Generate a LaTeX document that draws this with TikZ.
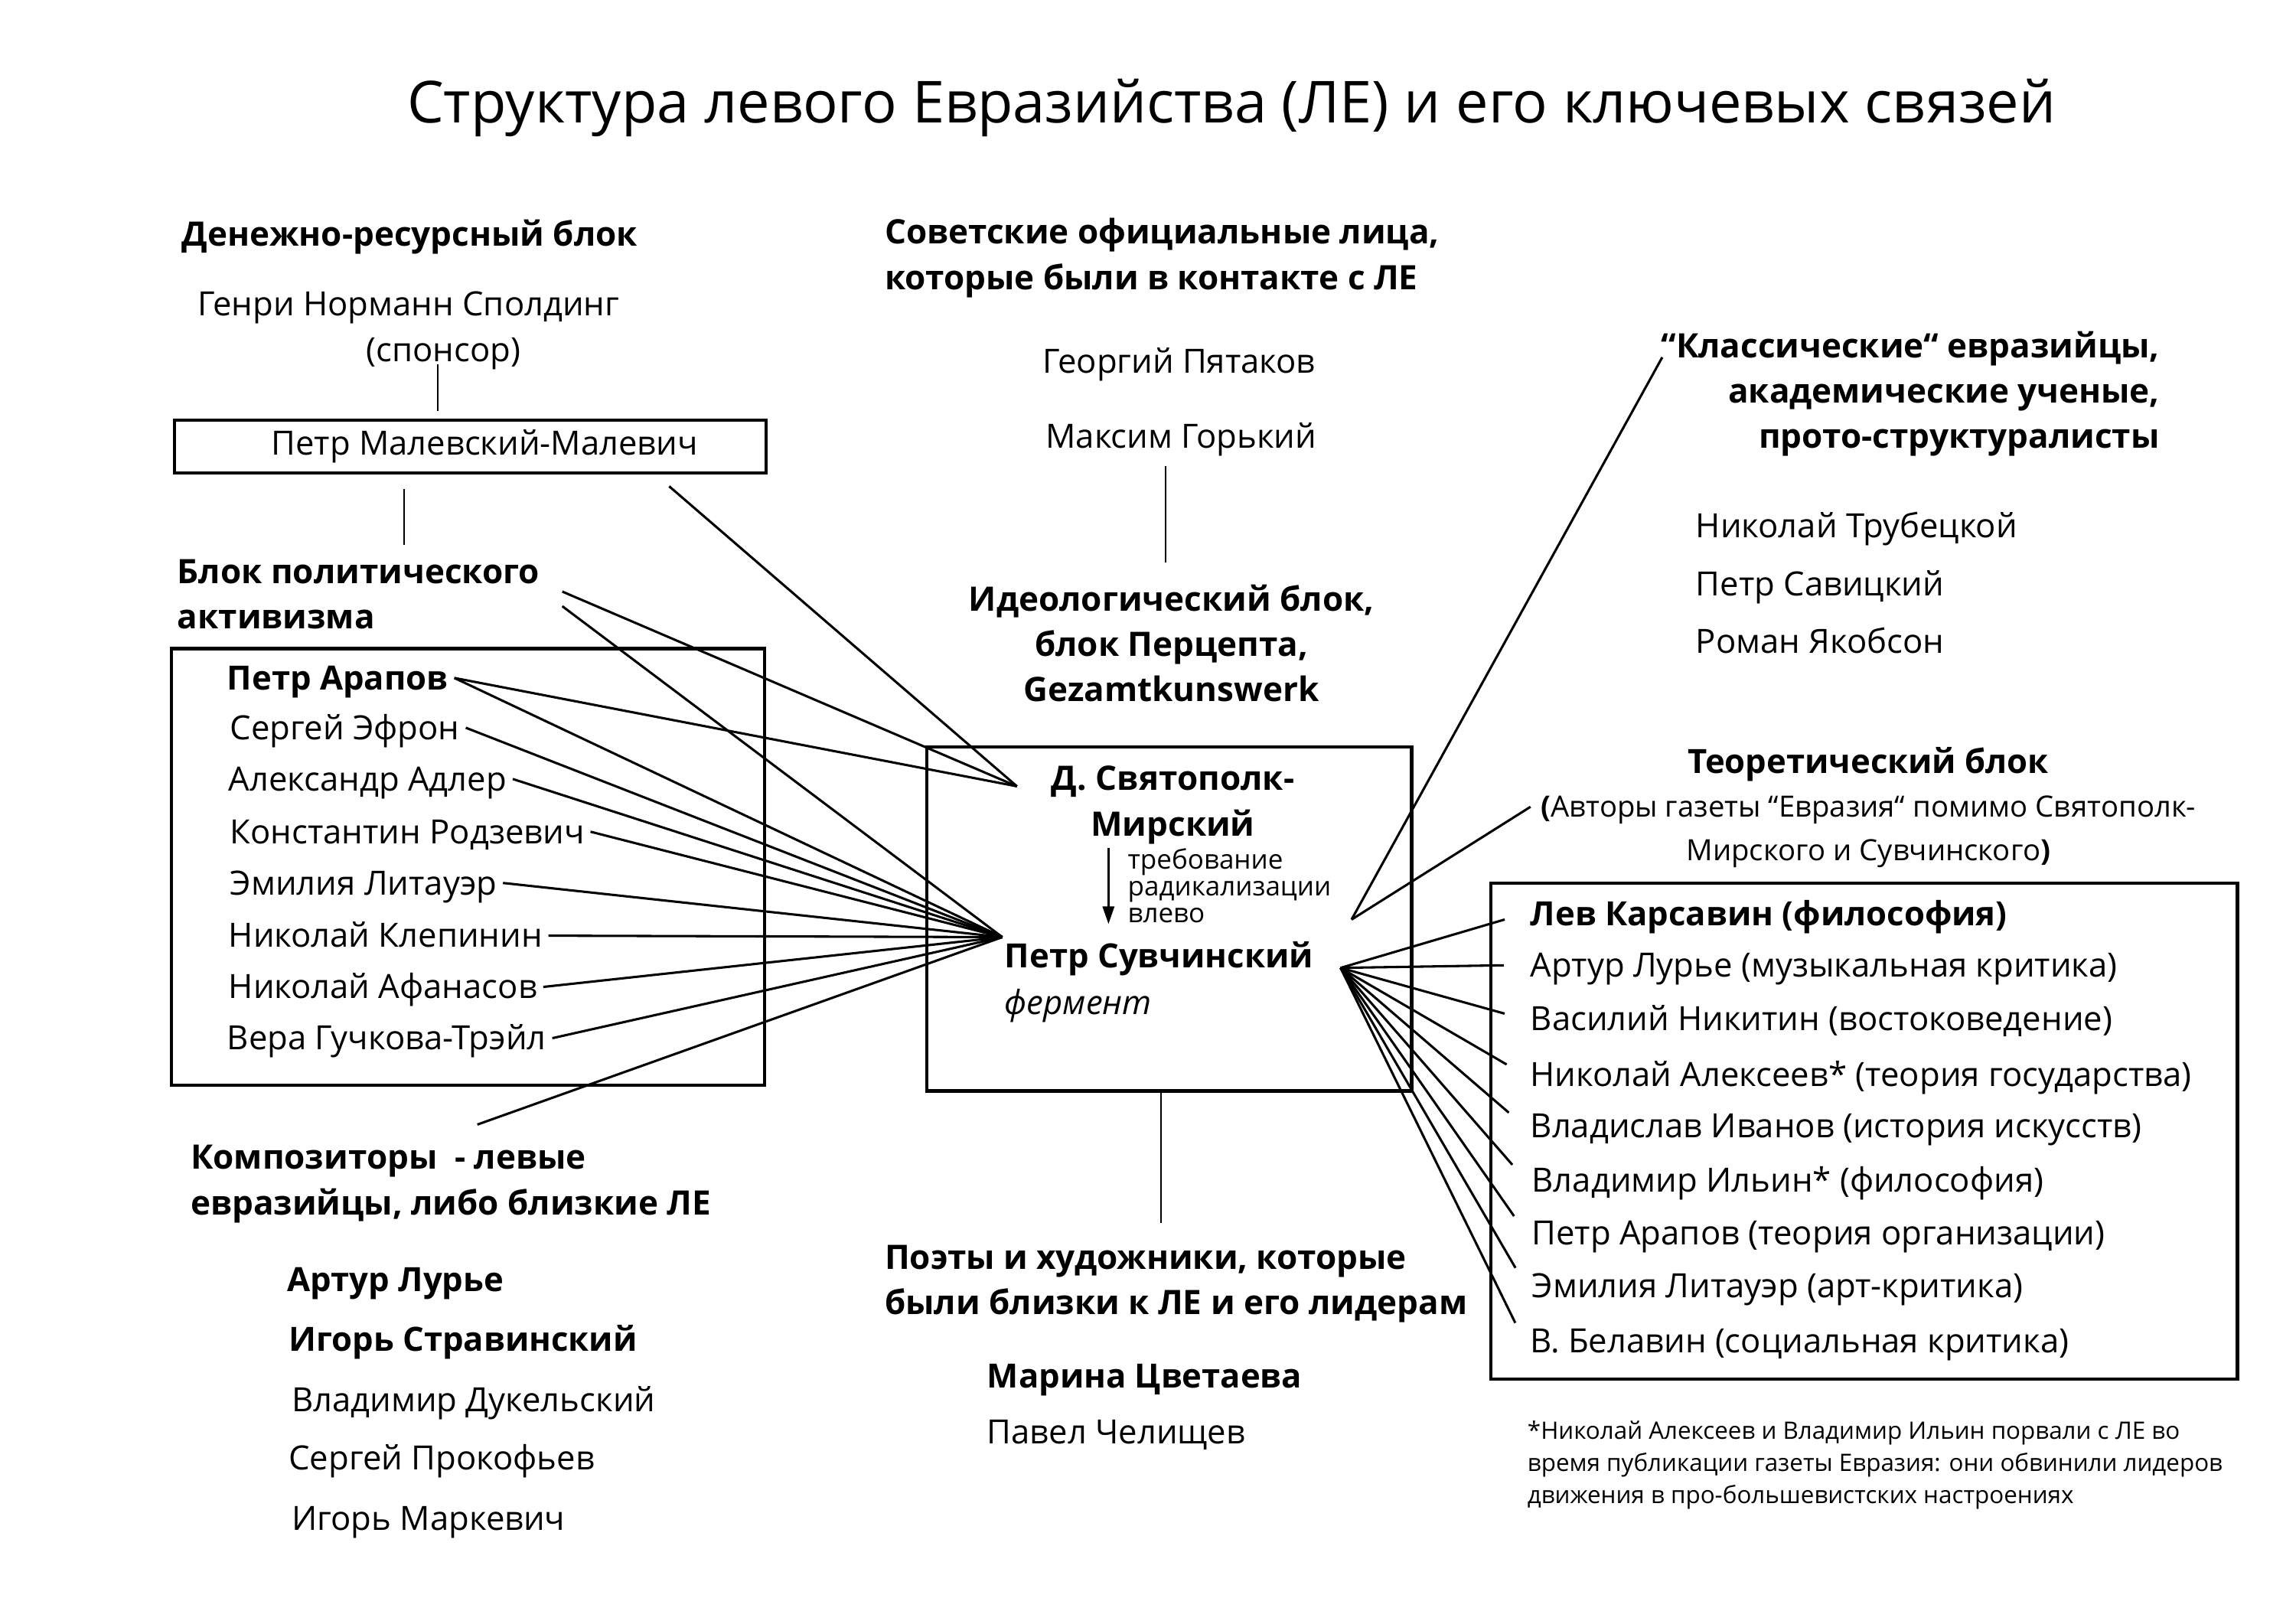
\documentclass[tikz,border=0pt]{standalone}
\usepackage{fontspec}
\setmainfont{Open Sans}
\usepackage{tikz}
\usetikzlibrary{arrows.meta, calc, positioning}
\newcommand{\nmfont}{\fontsize{22.8}{26}\selectfont}
\newcommand{\hdfont}{\bfseries\fontsize{23}{31}\selectfont}
\newcommand{\smfont}{\fontsize{20}{30}\selectfont}
\tikzset{
  nm/.style={anchor=west, inner sep=4pt, text height=16pt, text depth=0pt, font=\nmfont},
  nmb/.style={nm, font=\nmfont\bfseries},
  hd/.style={anchor=north west, inner sep=0pt, align=left, font=\hdfont},
  frame/.style={draw, line width=2.2pt, inner sep=0pt},
  link/.style={line width=1.6pt},
  thin/.style={line width=1.2pt}
}

\begin{document}
\begin{tikzpicture}[x=1pt, y=-1pt]
  \useasboundingbox (0,0) rectangle (1568,1108.6);
  \node[font=\fontsize{39.6}{48}\selectfont, anchor=base] (title) at (841,84)
    {Структура левого Евразийства (ЛЕ) и его ключевых связей};

  % left column
  \node[hd] (moneyHead) at (124,150) {Денежно-ресурсный блок};
  \node[hd, font=\fontsize{22.8}{31}\selectfont] (spalding) at (135,199)
    {Генри Норманн Сполдинг\\\hspace*{115pt}(спонсор)};
  \node[frame, minimum width=404pt, minimum height=36pt, font=\nmfont] (malevich) at (321,305)
    {\hspace*{20pt}Петр Малевский-Малевич};
  \node[hd] (polHead) at (121,382) {Блок политического\\активизма};
  \node[frame, minimum width=405pt, minimum height=298pt] (politBox) at (319.5,592) {};
  \node[nmb] (arapovL) at (151,463) {Петр Арапов};
  \node[nm] (efron) at (153,497) {Сергей Эфрон};
  \node[nm] (adler) at (152,532) {Александр Адлер};
  \node[nm] (rodzevich) at (153,568) {Константин Родзевич};
  \node[nm] (litauerL) at (153,603) {Эмилия Литауэр};
  \node[nm] (klepinin) at (152,639) {Николай Клепинин};
  \node[nm] (afanasov) at (152,674) {Николай Афанасов};
  \node[nm] (guchkova) at (151,709) {Вера Гучкова-Трэйл};
  \node[hd] (compHead) at (130,782) {Композиторы \ - левые\\евразийцы, либо близкие ЛЕ};
  \node[nmb] (lurieC) at (192,874) {Артур Лурье};
  \node[nmb] (stravinsky) at (193,915) {Игорь Стравинский};
  \node[nm] (dukelsky) at (195,956) {Владимир Дукельский};
  \node[nm] (prokofiev) at (193,996) {Сергей Прокофьев};
  \node[nm] (markevich) at (195,1037) {Игорь Маркевич};

  % center column
  \node[hd] (sovHead) at (604,149) {Советские официальные лица,\\которые были в контакте с ЛЕ};
  \node[nm] (pyatakov) at (708,247) {Георгий Пятаков};
  \node[nm] (gorky) at (710,298) {Максим Горький};
  \node[hd, align=center, anchor=north] (ideoHead) at (800,399)
    {Идеологический блок,\\блок Перцепта,\\Gezamtkunswerk};
  \node[frame, minimum width=331pt, minimum height=235pt] (centerBox) at (798.5,627.5) {};
  \node[hd, align=center, anchor=north] (mirsky) at (801,523) {Д. Святополк-\\Мирский};
  \node[anchor=north west, inner sep=0pt, align=left, font=\fontsize{18.3}{18.5}\selectfont] (demand) at (770,579)
    {требование\\радикализации\\влево};
  \node[nmb] (suvchinsky) at (682,653) {Петр Сувчинский};
  \node[nm, font=\nmfont\itshape] (ferment) at (682,685) {фермент};
  \node[hd] (poetsHead) at (604,850) {Поэты и художники, которые\\были близки к ЛЕ и его лидерам};
  \node[nmb] (tsvetaeva) at (670,940) {Марина Цветаева};
  \node[nm] (chelishchev) at (670,978) {Павел Челищев};

  % right column
  \node[hd, align=right, anchor=north east] (classicHead) at (1475,226)
    {“Классические“ евразийцы,\\академические ученые,\\прото-структуралисты};
  \node[nm] (trubetskoy) at (1154,359) {Николай Трубецкой};
  \node[nm] (savitsky) at (1154,399) {Петр Савицкий};
  \node[nm] (jakobson) at (1154,438) {Роман Якобсон};
  \node[nmb, anchor=center] (theoryHead) at (1276,520) {Теоретический блок};
  \node[anchor=north, inner sep=0pt, align=center, font=\smfont] (authors) at (1276,543)
    {\textbf{(}Авторы газеты “Евразия“ помимо Святополк-\\Мирского и Сувчинского\textbf{)}};
  \node[frame, minimum width=510pt, minimum height=339pt] (theoryBox) at (1273,772.5) {};
  \node[nmb] (karsavin) at (1041,624) {Лев Карсавин (философия)};
  \node[nm] (lurieT) at (1041,659) {Артур Лурье (музыкальная критика)};
  \node[nm] (nikitin) at (1041,696) {Василий Никитин (востоковедение)};
  \node[nm] (alekseev) at (1041,734) {Николай Алексеев* (теория государства)};
  \node[nm] (ivanov) at (1041,769) {Владислав Иванов (история искусств)};
  \node[nm] (ilyin) at (1042,806) {Владимир Ильин* (философия)};
  \node[nm] (arapovT) at (1042,842) {Петр Арапов (теория организации)};
  \node[nm] (litauerT) at (1042,878) {Эмилия Литауэр (арт-критика)};
  \node[nm] (belavin) at (1041,916) {В. Белавин (социальная критика)};
  \node[anchor=north west, inner sep=0pt, align=left, font=\fontsize{16.4}{22}\selectfont] (footnote) at (1043,970)
    {*Николай Алексеев и Владимир Ильин порвали с ЛЕ во\\время публикации газеты Евразия: они обвинили лидеров\\движения в про-большевистских настроениях};

  % hubs
  \coordinate (hubMirsky) at (694.5,537);
  \coordinate (hubSuvL) at (684.5,640);
  \coordinate (hubSuvR) at (915.5,661);
  \coordinate (hubTheory) at (923,628);

  % vertical links
  \draw[thin] ($(malevich.north)+(-22,-37)$) -- ($(malevich.north)+(-22,-5)$);
  \draw[thin] ($(malevich.south)+(-45,10)$) -- ($(polHead.north west)+(155,-10)$);
  \draw[thin] ($(gorky.south west)+(86,8)$) -- ($(ideoHead.north)+(-4,-15)$);
  \draw[thin] ($(centerBox.south)+(-5.5,0)$) -- ($(poetsHead.north west)+(189,-15)$);
  \draw[thin, -{Triangle[length=12pt, width=8pt]}] ($(demand.north west)+(-13,0)$) -- ($(demand.north west)+(-13,52)$);

  % fan to Mirsky
  \path[link] (hubMirsky)
    edge ($(malevich.south)+(136,8)$)
    edge ($(polHead.north west)+(263,22)$)
    edge (arapovL.east);

  % fan to Suvchinsky, left
  \path[link] (hubSuvL)
    edge ($(polHead.north west)+(263,32)$)
    edge (arapovL.east)
    edge (efron.east)
    edge (adler.east)
    edge (rodzevich.east)
    edge (litauerL.east)
    edge (klepinin.east)
    edge (afanasov.east)
    edge (guchkova.east)
    edge ($(compHead.north west)+(196,-14)$);

  % fan to Suvchinsky, right
  \path[link, shorten >=14pt] (hubSuvR)
    edge (karsavin.west)
    edge (lurieT.west)
    edge (nikitin.west)
    edge (alekseev.west)
    edge (ivanov.west)
    edge (ilyin.west)
    edge (arapovT.west)
    edge (litauerT.west)
    edge (belavin.west);

  \path[link] (hubTheory)
    edge ($(classicHead.north west)+(1,18)$)
    edge ($(authors.north west)+(-7,8)$);
\end{tikzpicture}
\end{document}
